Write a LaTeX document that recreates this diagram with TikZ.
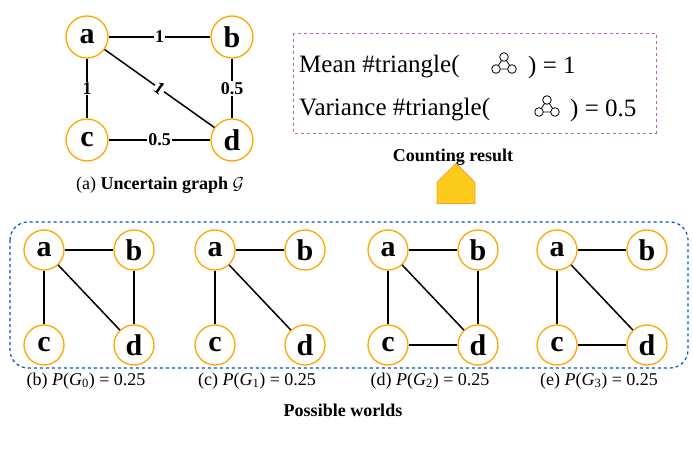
\documentclass[tikz,border=0pt]{standalone}
\usepackage{fontspec}
\setmainfont{Liberation Serif}
\usetikzlibrary{shapes.arrows}
\tikzset{
 vtx/.style={circle,draw=orange!70!yellow,line width=1.3pt,fill=white,minimum size=42pt,inner sep=0pt,font=\fontsize{30}{30}\selectfont\bfseries},
 svtx/.style={vtx,minimum size=40pt},
 ed/.style={line width=1.5pt},
 wl/.style={fill=white,inner sep=1pt,font=\fontsize{18}{18}\selectfont\bfseries},
 captxt/.style={font=\fontsize{18}{20}\selectfont},
 big/.style={font=\fontsize{25}{25}\selectfont,inner sep=0pt},
 tri/.pic={\draw[line width=0.8pt] (0,-6)--(-8,6)--(8,6)--cycle;
   \foreach \p in {(0,-6),(-8,6),(8,6)} \draw[line width=0.8pt,fill=white] \p circle (4.3);}
}
\begin{document}
\begin{tikzpicture}[x=1pt,y=-1pt]
\useasboundingbox (0,0) rectangle (693,476);
% uncertain graph
\node[vtx] (a) at (87,37) {a};
\node[vtx] (b) at (232,37) {b};
\node[vtx] (c) at (87,140) {c};
\node[vtx] (d) at (232,140) {d};
\draw[ed] (a)--node[wl]{1}(b);
\draw[ed] (a)--node[wl]{1}(c);
\draw[ed] (a)--node[wl,sloped]{1}(d);
\draw[ed] (b)--node[wl]{0.5}(d);
\draw[ed] (c)--node[wl]{0.5}(d);
\node[captxt] (capa) at (160,185) {(a) \textbf{Uncertain graph} $\mathcal{G}$};
% counting result
\draw[dashed,draw=violet!60,line width=0.8pt] (293,33) rectangle (656,133);
\node[big,anchor=west] (m) at (299,67) {Mean \#triangle(};
\node[big,anchor=west] (m2) at (528,67) {) = 1};
\node[big,anchor=west] (v) at (299,110) {Variance \#triangle(};
\node[big,anchor=west] (v2) at (570,110) {) = 0.5};
\pic at (504,63) {tri};
\pic at (547,106) {tri};
\node[font=\fontsize{18}{18}\selectfont\bfseries] (cr) at (453,157) {Counting result};
\node[single arrow,shape border rotate=90,draw=orange!80,fill=yellow!60!orange!90,line width=0.8pt,minimum height=40pt,minimum width=38pt,single arrow head extend=0pt,inner sep=10pt] (arr) at (456,193) {};
% possible worlds
\draw[dashed,draw=blue!60!cyan!80!black,line width=1.2pt,rounded corners=18pt] (10,222) rectangle (688,368);
\foreach \i/\x/\lab in {0/44/b,1/215/c,2/388/d,3/557/e}{
  \node[svtx] (a\i) at (\x,250) {a};
  \node[svtx] (b\i) at (\x+90,250) {b};
  \node[svtx] (c\i) at (\x,345) {c};
  \node[svtx] (d\i) at (\x+90,345) {d};
  \node[captxt] (p\i) at (\x+42,381) {(\lab) \textit{P}(\textit{G}\textsubscript{\i}) = 0.25};
}
\foreach \i in {0,1,2,3}{ \draw[ed] (a\i)--(b\i); \draw[ed] (a\i)--(c\i); \draw[ed] (a\i)--(d\i); }
\draw[ed] (b0)--(d0); \draw[ed] (b2)--(d2); \draw[ed] (c2)--(d2); \draw[ed] (c3)--(d3);
\node[font=\fontsize{18}{18}\selectfont\bfseries] (pw) at (343,410) {Possible worlds};
\end{tikzpicture}
\end{document}
